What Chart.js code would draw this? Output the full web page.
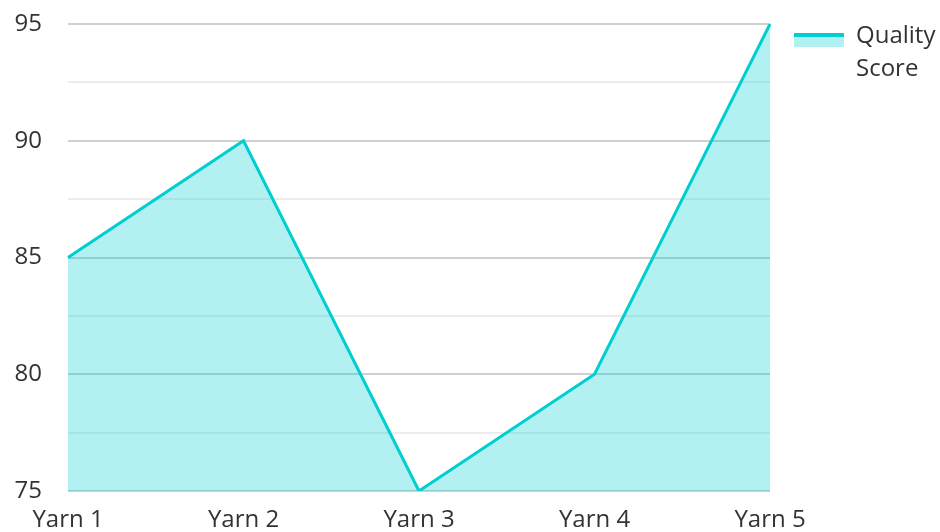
<!DOCTYPE html>
<html>
<head>
<meta charset="utf-8">
<script src="https://cdn.jsdelivr.net/npm/chart.js@4/dist/chart.umd.min.js"></script>
<style>
  html, body { margin: 0; padding: 0; background: #ffffff; }
  #wrap { width: 940px; height: 532px; }
</style>
</head>
<body>
<div id="wrap"><canvas id="c" width="940" height="532"></canvas></div>
<script>
const categories = ['Yarn 1', 'Yarn 2', 'Yarn 3', 'Yarn 4', 'Yarn 5'];
const seriesLabel = 'Quality Score';
const qualityScores = [85, 90, 75, 80, 95];
const yTicks = [75, 80, 85, 90, 95];

const LINE = '#00CED1';
const FILL = 'rgba(0, 206, 209, 0.3)';

// legend swatch: thick line over a light fill band (transparent top rows shift it down)
const swatch = document.createElement('canvas');
swatch.width = 50; swatch.height = 22;
(function () {
  const g = swatch.getContext('2d');
  g.fillStyle = FILL; g.fillRect(0, 8, 50, 14);
  g.fillStyle = LINE; g.fillRect(0, 8, 50, 4);
})();

Chart.defaults.font.family = '"Open Sans", sans-serif';
Chart.defaults.font.size = 24;
Chart.defaults.color = '#333333';

const legendLayout = {
  id: 'legendLayout',
  afterInit(chart) {
    const lg = chart.legend;
    if (!lg) return;
    const origFit = lg.fit.bind(lg);
    lg.fit = function () { origFit(); this.width = 170; };
  },
  afterLayout(chart) {
    const lg = chart.legend;
    if (!lg) return;
    lg.left = chart.chartArea.right + 24;
    lg.right = lg.left + lg.width;
  }
};

new Chart(document.getElementById('c'), {
  type: 'line',
  data: {
    labels: categories,
    datasets: [{
      label: seriesLabel,
      data: qualityScores,
      borderColor: LINE,
      backgroundColor: FILL,
      borderWidth: 3,
      fill: 'start',
      tension: 0,
      pointRadius: 0,
      pointHoverRadius: 0
    }]
  },
  plugins: [legendLayout],
  options: {
    responsive: false,
    animation: false,
    layout: { padding: { top: 24, right: 0, bottom: 0, left: 0 } },
    plugins: {
      tooltip: { enabled: false },
      legend: {
        position: 'right',
        align: 'start',
        labels: {
          usePointStyle: true,
          pointStyle: swatch,
          pointStyleWidth: 50,
          boxHeight: 24,
          padding: 0,
          color: '#333333',
          font: { size: 24, lineHeight: 1.375 },
          generateLabels: function (chart) {
            const items = Chart.defaults.plugins.legend.labels.generateLabels(chart);
            items.forEach(it => { it.text = String(it.text).split(' '); });
            return items;
          }
        }
      }
    },
    scales: {
      x: {
        offset: false,
        grid: { display: false },
        border: { display: false },
        ticks: { padding: 7, maxRotation: 0, color: '#333333', font: { size: 24 } },
        afterFit: s => { s.height = 41; }
      },
      y: {
        min: yTicks[0],
        max: yTicks[yTicks.length - 1],
        border: { display: false },
        grid: {
          drawTicks: false,
          color: ctx => (ctx.tick && ctx.tick.value % 5 === 0) ? '#cfcfcf' : '#ececec',
          lineWidth: 2
        },
        ticks: {
          stepSize: 2.5,
          padding: 26,
          color: '#333333',
          font: { size: 24 },
          callback: v => (yTicks.includes(v) ? String(v) : '')
        },
        afterFit: s => { s.width = 68; s.paddingTop = 0; s.paddingBottom = 0; }
      }
    }
  }
});
</script>
</body>
</html>
